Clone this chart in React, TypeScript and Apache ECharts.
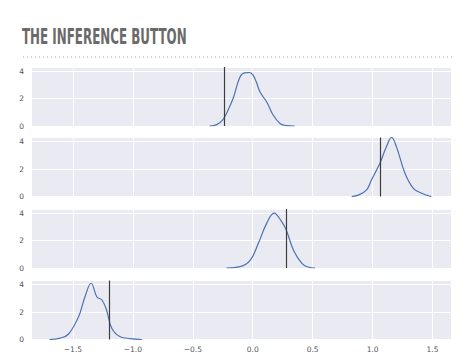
import React, { useEffect, useRef } from "react";
import * as echarts from "echarts";

const panel1: [number, number][] = [
  [-0.36, 0], [-0.3, 0.1], [-0.25, 0.45], [-0.22, 0.9], [-0.16, 2.1], [-0.11, 3.5],
  [-0.07, 3.87], [-0.03, 3.9], [0.0, 3.75], [0.03, 3.2], [0.06, 2.5], [0.12, 1.7],
  [0.17, 0.8], [0.23, 0.17], [0.28, 0.03], [0.35, 0],
];
const panel2: [number, number][] = [
  [0.825, 0], [0.88, 0.1], [0.95, 0.48], [0.99, 1.2], [1.06, 2.4], [1.116, 3.64],
  [1.158, 4.3], [1.2, 3.6], [1.27, 1.7], [1.34, 0.6], [1.41, 0.24], [1.49, 0],
];
const panel3: [number, number][] = [
  [-0.22, 0], [-0.106, 0.1], [-0.02, 0.58], [0.047, 1.8], [0.117, 3.27], [0.178, 4.0],
  [0.24, 3.4], [0.278, 2.8], [0.34, 1.3], [0.41, 0.34], [0.46, 0.07], [0.52, 0],
];
const panel4: [number, number][] = [
  [-1.695, 0], [-1.606, 0.1], [-1.537, 0.4], [-1.453, 1.66], [-1.4, 3.1], [-1.348, 4.1],
  [-1.3, 3.1], [-1.258, 2.88], [-1.22, 2.15], [-1.175, 0.8], [-1.106, 0.2], [-1.022, 0.07],
  [-0.925, 0],
];
const panels = [panel1, panel2, panel3, panel4];
const markers = [-0.245, 1.06, 0.278, -1.195];
const titleText = "THE INFERENCE BUTTON";
const xMin = -1.85;
const xMax = 1.66;
const yMax = 4.3;

export default function App() {
  const ref = useRef<HTMLDivElement>(null);
  useEffect(() => {
    if (!ref.current) return;
    const chart = echarts.init(ref.current, undefined, { renderer: "svg" });
    const tops = [67, 137.5, 209, 280.5];
    const grids = tops.map((t) => ({
      left: 31,
      right: 22.3,
      top: t,
      height: 59,
      show: true,
      backgroundColor: "#eaeaf2",
      borderWidth: 0,
    }));
    const xAxes = tops.map((_, i) => ({
      type: "value",
      gridIndex: i,
      min: xMin,
      max: xMax,
      splitNumber: 7,
      axisLine: { show: false },
      axisTick: { show: false },
      splitLine: { show: true, lineStyle: { color: "#ffffff", width: 1 } },
      axisLabel: {
        show: i === 3,
        showMinLabel: false,
        showMaxLabel: false,
        margin: 6,
        fontSize: 7.5,
        color: "#555",
        fontFamily: "DejaVu Sans",
        formatter: (v: number) => v.toFixed(1).replace("-", "\u2212"),
      },
    }));
    const yAxes = tops.map((_, i) => ({
      type: "value",
      gridIndex: i,
      min: 0,
      max: yMax,
      interval: 2,
      axisLine: { show: false },
      axisTick: { show: false },
      splitLine: { show: true, lineStyle: { color: "#ffffff", width: 1 } },
      axisLabel: {
        showMaxLabel: false,
        margin: 7,
        fontSize: 7.5,
        color: "#555",
        fontFamily: "DejaVu Sans",
      },
    }));
    const series = panels.map((d, i) => ({
      type: "line",
      xAxisIndex: i,
      yAxisIndex: i,
      data: d,
      smooth: 0.4,
      showSymbol: false,
      clip: true,
      lineStyle: { color: "#4c72b0", width: 1.2 },
      markLine: {
        silent: true,
        symbol: "none",
        label: { show: false },
        lineStyle: { color: "#3d3d3d", width: 1.2, type: "solid" },
        data: [{ xAxis: markers[i] }],
      },
    }));
    chart.setOption({
      animation: false,
      backgroundColor: "#ffffff",
      grid: grids,
      xAxis: xAxes,
      yAxis: yAxes,
      series,
      graphic: [
        {
          type: "text",
          left: 22,
          top: 26,
          scaleX: 0.63,
          style: {
            text: titleText,
            font: "bold 21px 'DejaVu Sans Condensed', 'Liberation Sans Narrow', sans-serif",
            fill: "#6a6a6a",
          },
        },
        {
          type: "line",
          shape: { x1: 23, y1: 57, x2: 455, y2: 57 },
          style: { stroke: "#a8a8a8", lineWidth: 1, lineDash: [1, 3] },
        },
      ],
    });
    return () => chart.dispose();
  }, []);
  return (
    <div
      ref={ref}
      style={{ position: "absolute", left: 0, top: 0, width: 474, height: 355 }}
    />
  );
}
